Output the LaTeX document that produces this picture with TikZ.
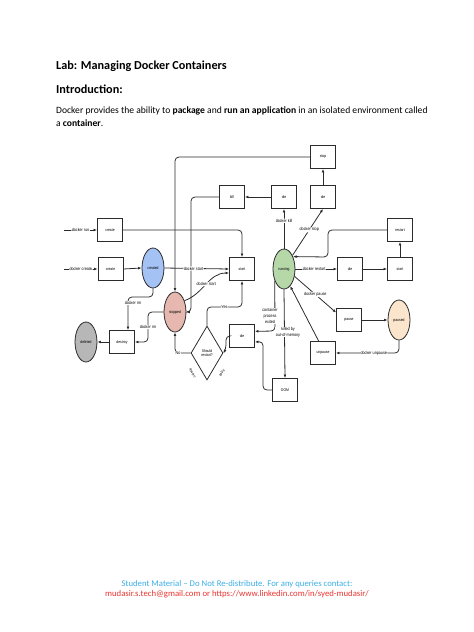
\documentclass[tikz,border=0pt]{standalone}
\usepackage{fontspec}
\setmainfont{Carlito}
\newfontfamily\diafont[FakeStretch=0.85]{Liberation Sans}
\usetikzlibrary{shapes.geometric,arrows.meta,calc}
\definecolor{linec}{HTML}{2B2B2B}
\definecolor{createdc}{HTML}{A4C2F4}
\definecolor{stoppedc}{HTML}{E6B8AF}
\definecolor{runningc}{HTML}{B6D7A8}
\definecolor{pausedc}{HTML}{FCE5CD}
\definecolor{deletedc}{HTML}{B7B7B7}
\definecolor{footblue}{HTML}{3BAEE6}
\definecolor{footred}{HTML}{E8322E}
\begin{document}
\begin{tikzpicture}[x=1.2606pt,y=-1.2606pt,
  box/.style={draw=linec,line width=1pt,fill=white,minimum width=31.5pt,minimum height=29pt,inner sep=0pt,font=\diafont\fontsize{5}{6}\selectfont},
  state/.style={ellipse,draw=linec,line width=1pt,minimum width=27.7pt,minimum height=50.4pt,inner sep=0pt,font=\diafont\fontsize{5}{6}\selectfont},
  lab/.style={fill=white,inner sep=0.6pt,font=\diafont\fontsize{5.5}{7.5}\selectfont,align=center},
  conn/.style={draw=linec,line width=1pt,rounded corners=5pt,-{Latex[length=4.5pt,width=3.6pt]}},
  smalllab/.style={font=\diafont\fontsize{4.5}{5}\selectfont,inner sep=0pt}]
\useasboundingbox (0,0) rectangle (474,632);
% text
\node[anchor=base west,inner sep=0pt,font=\fontsize{15.4}{18}\selectfont\bfseries] (title) at (56,69) {Lab: Managing Docker Containers};
\node[anchor=base west,inner sep=0pt,font=\fontsize{15.4}{18}\selectfont\bfseries] (intro) at (56,93) {Introduction:};
\node[anchor=base west,inner sep=0pt,font=\fontsize{12.1}{14}\selectfont] (body1) at (56,113) {Docker provides the ability to \textbf{package} and \textbf{run an application} in an isolated environment called};
\node[anchor=base west,inner sep=0pt,font=\fontsize{12.1}{14}\selectfont] (body2) at (56,126) {a \textbf{container}.};
\node[anchor=base,inner sep=0pt,font=\fontsize{11}{13}\selectfont,text=footblue] (foot1) at (237,586) {Student Material -- Do Not Re-distribute. For any queries contact:};
\node[anchor=base,inner sep=0pt,font=\fontsize{11}{13}\selectfont,text=footred] (foot2) at (237,596.5) {mudasir.s.tech@gmail.com or https://www.linkedin.com/in/syed-mudasir/};
% nodes
\node[box] (create1) at (110,230) {create};
\node[box] (create2) at (110.5,269) {create};
\node[state,fill=createdc] (created) at (153,268) {created};
\node[state,fill=stoppedc] (stopped) at (175,312) {stopped};
\node[box] (start) at (242,269) {start};
\node[box] (kill) at (232,197) {kill};
\node[box] (diek) at (284,197) {die};
\node[box] (dies) at (323,197) {die};
\node[box] (stop) at (323,157) {stop};
\node[state,fill=runningc] (running) at (284,269) {running};
\node[box] (restart) at (400,230) {restart};
\node[box] (dier) at (350,269) {die};
\node[box] (startr) at (400,269) {start};
\node[box] (pause) at (349,320) {pause};
\node[state,fill=pausedc] (paused) at (399,320) {paused};
\node[box] (unpause) at (323,353) {unpause};
\node[box] (die2) at (242,336) {die};
\node[diamond,draw=linec,line width=1pt,fill=white,minimum width=40.3pt,minimum height=68pt,inner sep=0pt,align=center,font=\diafont\fontsize{5}{6}\selectfont] (should) at (207,353) {Should\\restart?};
\node[box] (oom) at (285,390) {OOM};
\node[box] (destroy) at (122,342) {destroy};
\node[state,fill=deletedc] (deleted) at (86,342) {deleted};
\coordinate (runin) at (64,230);
\coordinate (createin) at (64,269);
% connectors
\draw[conn] (runin) -- node[lab,pos=0.5]{docker run} (create1.west);
\draw[conn] (createin) -- node[lab,pos=0.5]{docker create} (create2.west);
\draw[conn] (create1.east) -- (242,230) -- (start.north);
\draw[conn] (create2.east) -- (created.west);
\draw[conn] (stop.west) -- (175,157) -- (stopped.north);
\draw[conn] (kill.west) -- (191,197) -- (191,312) -- (stopped.east);
\draw[conn] (created.east) -- node[lab,pos=0.45]{docker start} (start.west);
\draw[conn] (stopped.50) to[out=20,in=180] node[lab,pos=0.5]{docker start} ($(start.west)+(0,4)$);
\draw[conn] (diek.west) -- (kill.east);
\draw[conn] (running.north) -- node[lab,pos=0.7]{docker kill} (diek.south);
\draw[conn] (running.58) -- node[lab,pos=0.55]{docker stop} (dies.south);
\draw[conn] (dies.north) -- (stop.south);
\draw[conn] (restart.west) -- (328,230) -- (328,257) -- (running.54);
\draw[conn] (running.east) -- node[lab,pos=0.45]{docker restart} (dier.west);
\draw[conn] (dier.east) -- (startr.west);
\draw[conn] (startr.north) -- (restart.south);
\draw[conn] (running.-35) -- node[lab,pos=0.5]{docker pause} (pause.150);
\draw[conn] (pause.east) -- (paused.west);
\draw[conn] (paused.south) -- (399,353) -- node[lab,pos=0.4]{docker unpause} (unpause.east);
\draw[conn] (unpause.110) -- (running.-70);
\draw[conn] (running.-128) -- (275,331) -- (die2.20);
\node[lab] (lexit) at (270,316) {container\\process\\exited};
\draw[conn] (running.south) -- (oom.north);
\node[lab] (lkill) at (288,332) {killed by\\out-of-memory};
\draw[conn] (oom.west) -- (263,390) -- (263,341.5) -- (die2.-25);
\draw[conn] (die2.west) -- (226,336) -- (226,349) -- (should.east);
\draw[conn] (should.north) -- (207,307) -- node[lab,pos=0.5]{Yes} (242,307) -- (start.south);
\draw[conn] (should.west) -- (175,353) -- (stopped.south);
\node[lab] (lno) at (178,353) {No};
\draw[conn] (created.south) -- (153,297) -- (128,297) -- ($(destroy.north)+(6,0)$);
\node[lab] (lrm1) at (133,303) {docker rm};
\draw[conn] (stopped.west) -- (148,312) -- node[lab,pos=0.5]{docker rm} (148,342) -- (destroy.east);
\draw[conn] (destroy.west) -- (deleted.east);
\node[smalllab,rotate=-59] (lrestart) at (192.5,373) {Restart};
\node[smalllab,rotate=59] (lpolicy) at (222,373) {policy};
\end{tikzpicture}
\end{document}
